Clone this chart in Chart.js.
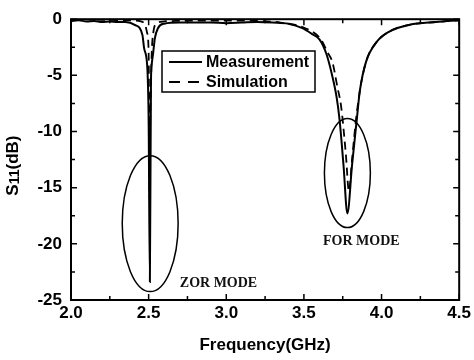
<!DOCTYPE html>
<html>
<head>
<meta charset="utf-8">
<script src="https://cdn.jsdelivr.net/npm/chart.js@4.4.1/dist/chart.umd.min.js"></script>
<style>
  html, body { margin: 0; padding: 0; background: #fff; }
</style>
</head>
<body>
<canvas id="s11-chart" width="474" height="360"></canvas>
<script>
// Measured S11 (GHz, dB)
const freqMeas = [2.00, 2.05, 2.10, 2.15, 2.20, 2.25, 2.30, 2.35, 2.41, 2.46, 2.47, 2.49, 2.495, 2.50, 2.508,
    2.515, 2.52, 2.53, 2.54, 2.56, 2.60, 2.70, 2.80, 2.90, 3.00, 3.10, 3.20, 3.30, 3.40, 3.49, 3.55, 3.60,
    3.645, 3.68, 3.71, 3.73, 3.755, 3.78, 3.81, 3.84, 3.86, 3.90, 3.97, 4.05, 4.18, 4.35, 4.50];
const s11Meas = [-0.15, -0.1, -0.2, -0.15, -0.25, -0.2, -0.25, -0.25, -0.5, -1.4, -2.5, -4, -5.5, -9, -23.4,
    -5.5, -4, -2.9, -1.7, -0.8, -0.4, -0.3, -0.3, -0.3, -0.35, -0.3, -0.25, -0.3, -0.4, -0.8, -1.3, -1.8,
    -3.1, -4.9, -6.9, -9, -13, -17.3, -13, -9, -6.4, -3.8, -2.0, -1.1, -0.5, -0.25, -0.1];

// Simulated S11 (GHz, dB)
const freqSim = [2.00, 2.10, 2.20, 2.30, 2.40, 2.45, 2.48, 2.49, 2.50, 2.506, 2.51, 2.515, 2.52, 2.53, 2.55,
    2.60, 2.70, 2.85, 3.00, 3.20, 3.35, 3.49, 3.61, 3.65, 3.685, 3.715, 3.74, 3.77, 3.79, 3.81, 3.835, 3.86,
    3.90, 3.97, 4.05, 4.18, 4.35, 4.50];
const s11Sim = [0, -0.02, -0.05, -0.08, -0.12, -0.2, -0.6, -1.2, -3, -16, -9, -6, -3, -1.2, -0.4,
    -0.2, -0.15, -0.12, -0.12, -0.15, -0.3, -0.7, -1.8, -2.9, -3.9, -6.0, -7.8, -12, -15.3, -12.5, -9, -6.4,
    -3.8, -2.0, -1.1, -0.5, -0.25, -0.1];

// Ellipse annotations around the two resonances
const modeLabels = ['ZOR MODE', 'FOR MODE'];
const modeFreq = [2.51, 3.78];
const modeDb = [-18.2, -13.7];
const modeHalfWidth = [0.18, 0.148];
const modeHalfHeight = [6.05, 4.85];
const labelFreq = [2.95, 3.87];
const labelDb = [-23.5, -19.75];

const toPoints = (xs, ys) => xs.map((f, i) => ({ x: f, y: ys[i] }));

const tickFont = { family: 'Liberation Sans', size: 17, weight: 'bold' };

// frame, inward ticks, ellipses, legend and y title
const decorPlugin = {
    id: 'decor',
    afterDatasetsDraw(chart) {
        const { ctx, chartArea: a, scales: { x, y } } = chart;
        ctx.save();
        ctx.strokeStyle = '#000';
        ctx.lineWidth = 2;
        ctx.strokeRect(a.left, a.top, a.right - a.left, a.bottom - a.top);

        ctx.lineWidth = 1.5;
        ctx.beginPath();
        for (let i = 0; i <= 10; i++) {
            const px = x.getPixelForValue(2 + i * 0.25);
            const len = i % 2 === 0 ? 6 : 4;
            ctx.moveTo(px, a.bottom); ctx.lineTo(px, a.bottom - len);
            ctx.moveTo(px, a.top); ctx.lineTo(px, a.top + len);
        }
        for (let i = 0; i <= 10; i++) {
            const py = y.getPixelForValue(-i * 2.5);
            const len = i % 2 === 0 ? 6 : 4;
            ctx.moveTo(a.left, py); ctx.lineTo(a.left + len, py);
            ctx.moveTo(a.right, py); ctx.lineTo(a.right - len, py);
        }
        ctx.stroke();

        // ellipses + mode labels
        ctx.lineWidth = 1.5;
        ctx.fillStyle = '#111';
        ctx.font = 'bold 14px "Liberation Serif"';
        ctx.textAlign = 'center';
        ctx.textBaseline = 'middle';
        modeLabels.forEach((label, i) => {
            const cx = x.getPixelForValue(modeFreq[i]);
            const cy = y.getPixelForValue(modeDb[i]);
            const rx = Math.abs(x.getPixelForValue(modeFreq[i] + modeHalfWidth[i]) - cx);
            const ry = Math.abs(y.getPixelForValue(modeDb[i] + modeHalfHeight[i]) - cy);
            ctx.beginPath();
            ctx.ellipse(cx, cy, rx, ry, 0, 0, Math.PI * 2);
            ctx.stroke();
            ctx.fillText(label, x.getPixelForValue(labelFreq[i]), y.getPixelForValue(labelDb[i]));
        });

        // legend box
        const lx = 162, ly = 51, lw = 153, lh = 41;
        ctx.lineWidth = 1.5;
        ctx.strokeRect(lx, ly, lw, lh);
        ctx.font = 'bold 16px "Liberation Sans"';
        ctx.textAlign = 'left';
        ctx.fillStyle = '#000';
        chart.data.datasets.forEach((ds, i) => {
            const yy = ly + 11 + i * 20;
            ctx.beginPath();
            ctx.lineWidth = 2;
            ctx.setLineDash(ds.borderDash ? [11, 8] : []);
            ctx.moveTo(lx + 7, yy); ctx.lineTo(lx + 40, yy);
            ctx.stroke();
            ctx.setLineDash([]);
            ctx.fillText(ds.label, lx + 44, yy + 1);
        });

        // y title with subscript
        ctx.translate(13, (a.top + a.bottom) / 2 + 6);
        ctx.rotate(-Math.PI / 2);
        ctx.textBaseline = 'middle';
        ctx.font = 'bold 17px "Liberation Sans"';
        const partS = 'S', part11 = '11', partRest = '(dB)';
        const wS = ctx.measureText(partS).width;
        ctx.font = 'bold 14px "Liberation Sans"';
        const w11 = ctx.measureText(part11).width;
        ctx.font = 'bold 17px "Liberation Sans"';
        const wRest = ctx.measureText(partRest).width;
        let tx = -(wS + w11 + wRest) / 2;
        ctx.fillText(partS, tx, 0); tx += wS;
        ctx.font = 'bold 14px "Liberation Sans"';
        ctx.fillText(part11, tx, 2); tx += w11;
        ctx.font = 'bold 17px "Liberation Sans"';
        ctx.fillText(partRest, tx, 0);
        ctx.restore();
    }
};

const ctx = document.getElementById('s11-chart').getContext('2d');
new Chart(ctx, {
    type: 'line',
    data: {
        datasets: [
            {
                label: 'Measurement',
                data: toPoints(freqMeas, s11Meas),
                borderColor: '#000',
                borderWidth: 2,
                pointRadius: 0,
                cubicInterpolationMode: 'monotone',
                fill: false,
            },
            {
                label: 'Simulation',
                data: toPoints(freqSim, s11Sim),
                borderColor: '#000',
                borderWidth: 1.8,
                borderDash: [8, 5],
                pointRadius: 0,
                cubicInterpolationMode: 'monotone',
                fill: false,
            },
        ]
    },
    options: {
        responsive: false,
        animation: false,
        layout: { padding: { top: 14, right: 14, left: 0, bottom: 0 } },
        plugins: { legend: { display: false }, tooltip: { enabled: false } },
        scales: {
            x: {
                type: 'linear',
                min: 2.0,
                max: 4.5,
                grid: { display: false, drawTicks: false },
                border: { display: false },
                ticks: { stepSize: 0.5, padding: 3, color: '#000', font: tickFont, maxRotation: 0,
                    callback: v => v.toFixed(1) },
                title: { display: true, text: 'Frequency(GHz)', color: '#000', font: tickFont,
                    padding: { top: 14, bottom: 4 } },
                afterFit: scale => { scale.height = 60; },
            },
            y: {
                min: -25,
                max: 0,
                grid: { display: false, drawTicks: false },
                border: { display: false },
                ticks: { stepSize: 5, padding: 9, color: '#000', font: tickFont },
                afterFit: scale => { scale.width = 71; },
            },
        },
    },
    plugins: [decorPlugin],
});
</script>
</body>
</html>
